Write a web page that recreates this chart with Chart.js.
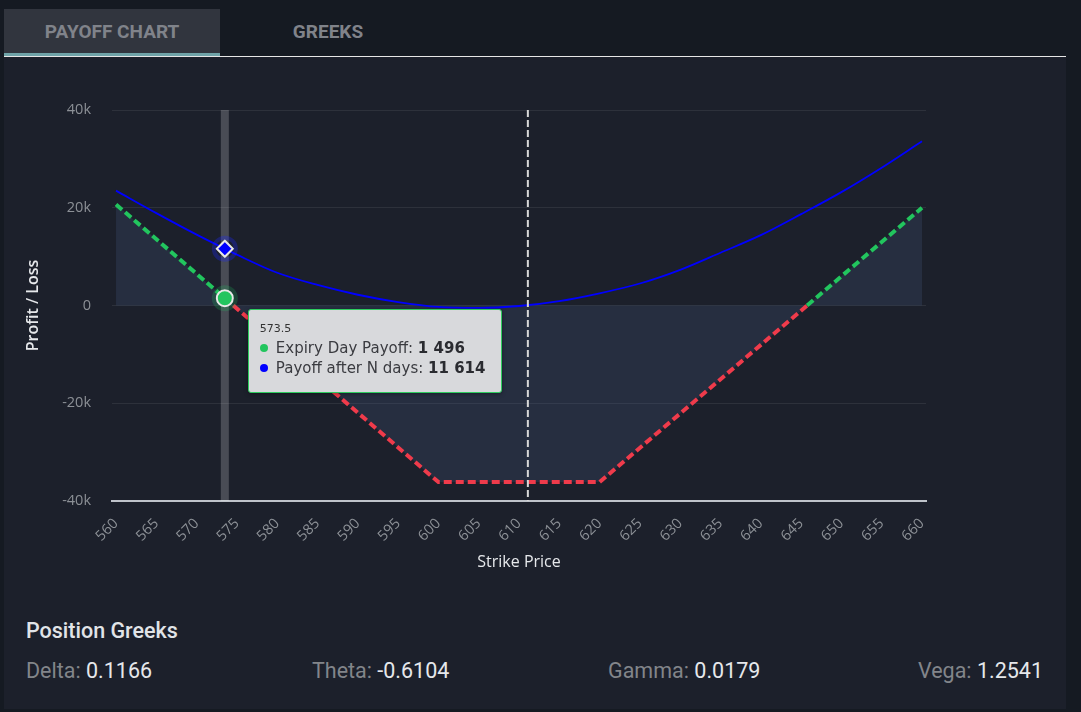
<!DOCTYPE html>
<html>
<head>
<meta charset="utf-8">
<script src="https://cdn.jsdelivr.net/npm/chart.js@4.4.0/dist/chart.umd.min.js"></script>
<style>
  html, body { margin: 0; padding: 0; }
  body { width: 1081px; height: 712px; background: #151a22; position: relative; overflow: hidden; font-family: Roboto, sans-serif; }
  .tab { position: absolute; top: 9px; height: 44px; line-height: 46px; font-size: 19px; font-weight: 700; color: #80838a; text-align: center; }
  .tab.active { left: 4px; width: 216px; background: #31353e; border-bottom: 3px solid #6fa3a8; }
  .tab.other { left: 220px; width: 216px; }
  .tab-line { position: absolute; left: 4px; top: 56px; width: 1062px; height: 1px; background: #e6e6e6; }
  .panel { position: absolute; left: 4px; top: 57px; width: 1062px; height: 652px; background: #1c202b; }
  #payoff-chart { position: absolute; left: 0; top: 0; }
  .tip { position: absolute; display: none; background: #d8d9dc; border: 1px solid #2ecc5e; border-radius: 3px;
         padding: 10px 16px 14px 11px; font-family: 'DejaVu Sans', sans-serif; color: #3a3b40; white-space: nowrap;
         box-shadow: 0 1px 4px rgba(0,0,0,0.35); }
  .tip .t { font-size: 11px; line-height: 18px; color: #333; }
  .tip .r { font-size: 15px; line-height: 20px; }
  .tip .r b { color: #2a2b30; font-weight: 600; }
  .tip .dot { display: inline-block; width: 8px; height: 8px; border-radius: 50%; margin-right: 8px; vertical-align: 1px; }
  .pg-title { position: absolute; left: 26px; top: 618px; font-size: 21.5px; font-weight: 500; color: #e1e4e8; }
  .greek { position: absolute; top: 658px; font-size: 21.5px; color: #82858a; }
  .greek span { color: #e6e8eb; }
</style>
</head>
<body>
<div class="tab active">PAYOFF CHART</div>
<div class="tab other">GREEKS</div>
<div class="tab-line"></div>
<div class="panel"></div>
<canvas id="payoff-chart" width="1081" height="600"></canvas>
<div id="tip" class="tip"></div>
<div class="pg-title">Position Greeks</div>
<div id="greeks"></div>
<script>
const xTickValues = [560, 565, 570, 575, 580, 585, 590, 595, 600, 605, 610, 615, 620, 625, 630, 635, 640, 645, 650, 655, 660];
const yTickValues = [-40000, -20000, 0, 20000, 40000];

// expiry payoff: piecewise linear, vertices
const expiryStrikes = [560, 573.5, 574.55, 600, 620, 645.75, 660];
const expiryPayoff = [20666, 1496, 0, -36134, -36134, 0, 20000];

// payoff after N days: smooth curve
const nDayStrikes = [560, 565, 570, 573.5, 575, 580, 585, 590, 595, 600, 605, 610, 615, 620, 625, 630, 635, 640, 645, 650, 655, 660];
const nDayPayoff = [23500, 18900, 14500, 11614, 10400, 6700, 4200, 2200, 700, -300, -500, -100, 900, 2500, 4500, 7300, 10800, 14400, 18700, 23200, 28200, 33600];

const tooltipStrike = 573.5;
const spotPrice = 611.1;

const greekNames = ['Delta', 'Theta', 'Gamma', 'Vega'];
const greekValues = ['0.1166', '-0.6104', '0.0179', '1.2541'];

const GREEN = '#22c55e';
const RED = '#ef3b4b';
const BLUE = '#0000ff';

function fmtSpace(v) {
  return String(Math.round(v)).replace(/\B(?=(\d{3})+(?!\d))/g, ' ');
}

function renderGreeks() {
  const box = document.getElementById('greeks');
  const pos = [{ left: 26 }, { left: 312 }, { left: 608 }, { right: 38 }];
  greekNames.forEach((name, i) => {
    const el = document.createElement('div');
    el.className = 'greek';
    if (pos[i].left !== undefined) el.style.left = pos[i].left + 'px';
    else el.style.right = pos[i].right + 'px';
    el.innerHTML = name + ': <span>' + greekValues[i] + '</span>';
    box.appendChild(el);
  });
}

const hoverBand = {
  id: 'hoverBand',
  beforeDatasetsDraw(chart) {
    const active = chart.getActiveElements();
    if (!active.length) return;
    const { ctx, chartArea } = chart;
    const x = active[0].element.x;
    ctx.save();
    ctx.fillStyle = 'rgba(255,255,255,0.2)';
    ctx.fillRect(x - 4, chartArea.top, 8, chartArea.bottom - chartArea.top);
    ctx.restore();
  },
  afterDatasetsDraw(chart) {
    const { ctx, chartArea } = chart;
    const sx = chart.scales.x.getPixelForValue(spotPrice);
    ctx.save();
    ctx.strokeStyle = '#d8d8d8';
    ctx.lineWidth = 2;
    ctx.setLineDash([7, 3]);
    ctx.beginPath();
    ctx.moveTo(sx, chartArea.top);
    ctx.lineTo(sx, chartArea.bottom);
    ctx.stroke();
    ctx.setLineDash([]);
    // halos round the hovered points
    chart.getActiveElements().forEach((a) => {
      const col = a.datasetIndex === 0 ? 'rgba(34,197,94,0.22)' : 'rgba(30,40,255,0.3)';
      ctx.fillStyle = col;
      ctx.beginPath();
      ctx.arc(a.element.x, a.element.y, 13, 0, Math.PI * 2);
      ctx.arc(a.element.x, a.element.y, 9, 0, Math.PI * 2, true);
      ctx.fill('evenodd');
    });
    ctx.restore();
  },
};

function showTip(chart, iExp, iDay) {
  const tip = document.getElementById('tip');
  const el = chart.getDatasetMeta(0).data[iExp];
  tip.innerHTML =
    '<div class="t">' + tooltipStrike + '</div>' +
    '<div class="r"><span class="dot" style="background:' + GREEN + '"></span>Expiry Day Payoff: <b>' + fmtSpace(expiryPayoff[iExp]) + '</b></div>' +
    '<div class="r"><span class="dot" style="background:' + BLUE + '"></span>Payoff after N days: <b>' + fmtSpace(nDayPayoff[iDay]) + '</b></div>';
  tip.style.left = (el.x + 23) + 'px';
  tip.style.top = (el.y + 11) + 'px';
  tip.style.display = 'block';
}

function buildChart() {
  const canvas = document.getElementById('payoff-chart');
  Chart.defaults.font.family = "'Open Sans', sans-serif";
  const chart = new Chart(canvas, {
    type: 'line',
    data: {
      datasets: [
        {
          label: 'Expiry Day Payoff',
          data: expiryStrikes.map((x, i) => ({ x, y: expiryPayoff[i] })),
          borderColor: GREEN,
          borderWidth: 4,
          borderDash: [8, 4],
          backgroundColor: 'rgba(72,94,135,0.24)',
          fill: 'origin',
          pointRadius: 0,
          pointHoverRadius: 8,
          pointHoverBorderWidth: 2,
          pointHoverBorderColor: '#e8e8e8',
          pointBackgroundColor: GREEN,
          pointHoverBackgroundColor: GREEN,
          pointStyle: 'circle',
          segment: {
            borderColor: (c) => (c.p0.parsed.y < 0 || c.p1.parsed.y < 0 ? RED : GREEN),
          },
          order: 2,
        },
        {
          label: 'Payoff after N days',
          data: nDayStrikes.map((x, i) => ({ x, y: nDayPayoff[i] })),
          borderColor: BLUE,
          borderWidth: 1.8,
          fill: false,
          cubicInterpolationMode: 'monotone',
          pointRadius: 0,
          pointHoverRadius: 8,
          pointHoverBorderWidth: 2,
          pointHoverBorderColor: '#e8e8e8',
          pointBackgroundColor: BLUE,
          pointHoverBackgroundColor: BLUE,
          pointStyle: 'rectRot',
          order: 1,
        },
      ],
    },
    options: {
      responsive: false,
      animation: false,
      events: [],
      layout: { padding: { left: 0, top: 110, right: 155, bottom: 0 } },
      plugins: { legend: { display: false }, tooltip: { enabled: false } },
      scales: {
        x: {
          type: 'linear',
          min: 559.5,
          max: 660.5,
          afterBuildTicks: (scale) => { scale.ticks = xTickValues.map((v) => ({ value: v })); },
          afterFit: (scale) => { scale.height = 99; },
          grid: { display: false, drawTicks: false },
          border: { display: true, color: '#bfc3ca', width: 2 },
          ticks: { color: '#8c9096', font: { size: 14.5 }, minRotation: 45, maxRotation: 45, autoSkip: false, padding: 14,
                   callback: (v) => String(v) },
          title: { display: true, text: 'Strike Price', color: '#e6e8eb', font: { size: 16 }, padding: { top: 4, bottom: 28 } },
        },
        y: {
          min: -40000,
          max: 40000,
          afterBuildTicks: (scale) => { scale.ticks = yTickValues.map((v) => ({ value: v })); },
          afterFit: (scale) => { scale.width = 112; },
          grid: { color: 'rgba(255,255,255,0.08)', drawTicks: false },
          border: { display: false },
          ticks: { color: '#8c9096', font: { size: 14.5 }, padding: 21, callback: (v) => (v === 0 ? '0' : v / 1000 + 'k') },
          title: { display: true, text: 'Profit / Loss', color: '#e6e8eb', font: { size: 16, weight: 600 }, padding: { top: 24, bottom: 0 } },
        },
      },
    },
    plugins: [hoverBand],
  });

  const iExp = expiryStrikes.indexOf(tooltipStrike);
  const iDay = nDayStrikes.indexOf(tooltipStrike);
  chart.setActiveElements([{ datasetIndex: 0, index: iExp }, { datasetIndex: 1, index: iDay }]);
  chart.render();
  showTip(chart, iExp, iDay);
}

document.addEventListener('DOMContentLoaded', () => {
  renderGreeks();
  buildChart();
});
</script>
</body>
</html>
